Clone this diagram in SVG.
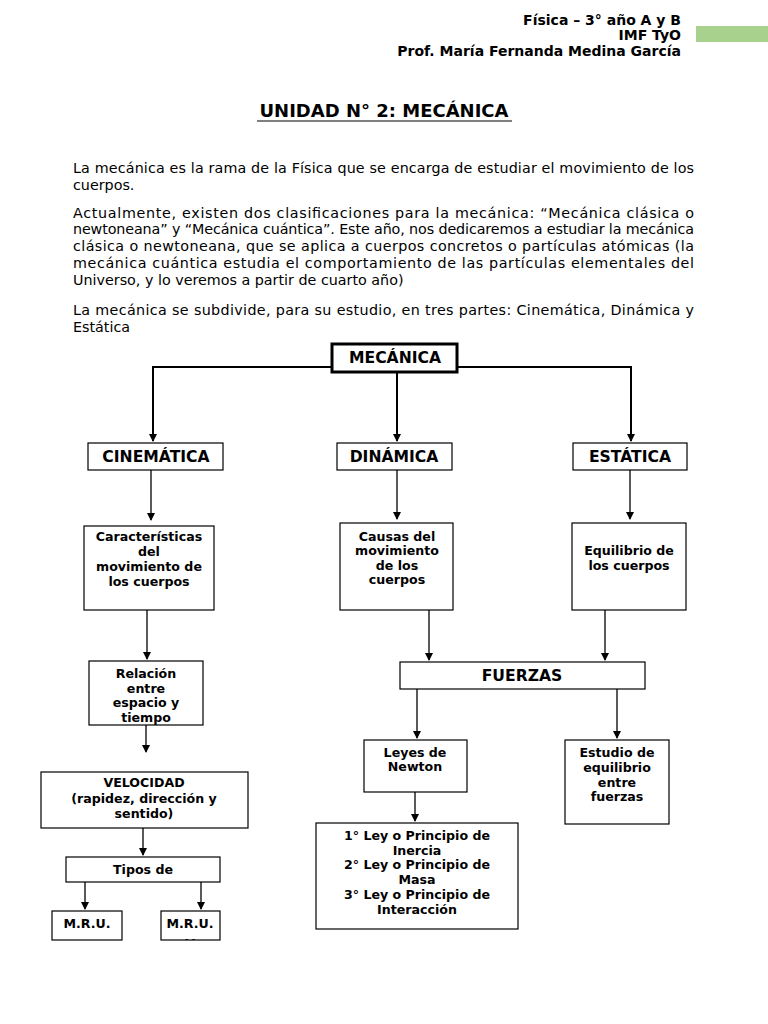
<svg xmlns="http://www.w3.org/2000/svg" width="768" height="1024" viewBox="0 0 768 1024">
<style>
.hd{font-family:"DejaVu Sans",Verdana,sans-serif;font-weight:bold;font-size:14px;fill:#000}
.body{font-family:"DejaVu Sans",Verdana,sans-serif;font-size:14.3px;fill:#000}
.ttl{font-family:"DejaVu Sans",Verdana,sans-serif;font-weight:bold;font-size:18px;fill:#000}
.big{font-family:"DejaVu Sans",Verdana,sans-serif;font-weight:bold;font-size:15.6px;fill:#000;text-anchor:middle}
.lbl{font-family:"DejaVu Sans",Verdana,sans-serif;font-weight:bold;font-size:12.6px;fill:#000;text-anchor:middle}
.box{fill:#fff;stroke:#000;stroke-width:1.2}
.c1{fill:none;stroke:#000;stroke-width:2}
.c2{fill:none;stroke:#000;stroke-width:1.3}
</style>
<defs>
<marker id="ah" markerWidth="8" markerHeight="8" refX="7" refY="4" orient="auto" markerUnits="userSpaceOnUse">
<path d="M0,0 L8,4 L0,8 z" fill="#000"/>
</marker>
<clipPath id="clipRel"><rect x="89" y="661" width="114" height="64"/></clipPath>
<clipPath id="clipMruv"><rect x="161" y="911" width="59" height="29"/></clipPath>
</defs>
<rect width="768" height="1024" fill="#fff"/>
<g id="header">
<text class="hd" x="681" y="25" text-anchor="end">Física – 3° año A y B</text>
<text class="hd" x="681" y="40" text-anchor="end">IMF TyO</text>
<text class="hd" x="681" y="56" text-anchor="end">Prof. María Fernanda Medina García</text>
<rect x="696" y="26" width="72" height="16" fill="#a9d18e"/>
</g>
<g id="title">
<text class="ttl" x="384" y="117" text-anchor="middle">UNIDAD N° 2: MECÁNICA</text>
<line x1="257" y1="121" x2="512" y2="121" stroke="#000" stroke-width="1.2"/>
</g>
<g id="paragraphs">
<text class="body" x="73" y="173" textLength="621" lengthAdjust="spacing">La mecánica es la rama de la Física que se encarga de estudiar el movimiento de los</text>
<text class="body" x="73" y="190">cuerpos.</text>
<text class="body" x="73" y="218" textLength="621" lengthAdjust="spacing">Actualmente, existen dos clasificaciones para la mecánica: “Mecánica clásica o</text>
<text class="body" x="73" y="234" textLength="621" lengthAdjust="spacing">newtoneana” y “Mecánica cuántica”. Este año, nos dedicaremos a estudiar la mecánica</text>
<text class="body" x="73" y="251" textLength="621" lengthAdjust="spacing">clásica o newtoneana, que se aplica a cuerpos concretos o partículas atómicas (la</text>
<text class="body" x="73" y="268" textLength="621" lengthAdjust="spacing">mecánica cuántica estudia el comportamiento de las partículas elementales del</text>
<text class="body" x="73" y="285">Universo, y lo veremos a partir de cuarto año)</text>
<text class="body" x="73" y="315" textLength="621" lengthAdjust="spacing">La mecánica se subdivide, para su estudio, en tres partes: Cinemática, Dinámica y</text>
<text class="body" x="73" y="332">Estática</text>
</g>
<g id="connectors">
<path class="c1" d="M332,367 H153 V441" marker-end="url(#ah)"/>
<path class="c1" d="M457,367 H631 V441" marker-end="url(#ah)"/>
<path class="c1" d="M397,372 V441" marker-end="url(#ah)"/>
<path class="c2" d="M151,470 V520" marker-end="url(#ah)"/>
<path class="c2" d="M397,470 V519" marker-end="url(#ah)"/>
<path class="c2" d="M630,470 V519" marker-end="url(#ah)"/>
<path class="c2" d="M147,610 V659" marker-end="url(#ah)"/>
<path class="c2" d="M429,610 V660" marker-end="url(#ah)"/>
<path class="c2" d="M605,610 V660" marker-end="url(#ah)"/>
<path class="c2" d="M146,725 V752" marker-end="url(#ah)"/>
<path class="c2" d="M143,828 V855" marker-end="url(#ah)"/>
<path class="c2" d="M85,882 V909" marker-end="url(#ah)"/>
<path class="c2" d="M201,882 V909" marker-end="url(#ah)"/>
<path class="c2" d="M417,689 V738" marker-end="url(#ah)"/>
<path class="c2" d="M617,689 V738" marker-end="url(#ah)"/>
<path class="c2" d="M415,792 V821" marker-end="url(#ah)"/>
</g>
<g id="mecanica">
<rect x="332" y="344" width="125" height="28" fill="#fff" stroke="#000" stroke-width="3"/>
<text class="big" x="395" y="363">MECÁNICA</text>
</g>
<g id="cinematica">
<rect class="box" x="88" y="443" width="135" height="27"/>
<text class="big" x="156" y="462">CINEMÁTICA</text>
</g>
<g id="dinamica">
<rect class="box" x="337" y="443" width="115" height="27"/>
<text class="big" x="394" y="462">DINÁMICA</text>
</g>
<g id="estatica">
<rect class="box" x="573" y="443" width="114" height="27"/>
<text class="big" x="630" y="462">ESTÁTICA</text>
</g>
<g id="caracteristicas">
<rect class="box" x="84" y="526" width="130" height="84"/>
<text class="lbl" x="149" y="541">Características</text>
<text class="lbl" x="149" y="556">del</text>
<text class="lbl" x="149" y="571">movimiento de</text>
<text class="lbl" x="149" y="586">los cuerpos</text>
</g>
<g id="causas">
<rect class="box" x="340" y="523" width="113" height="87"/>
<text class="lbl" x="397" y="541">Causas del</text>
<text class="lbl" x="397" y="555">movimiento</text>
<text class="lbl" x="397" y="570">de los</text>
<text class="lbl" x="397" y="584">cuerpos</text>
</g>
<g id="equilibrio">
<rect class="box" x="572" y="523" width="114" height="87"/>
<text class="lbl" x="629" y="555">Equilibrio de</text>
<text class="lbl" x="629" y="570">los cuerpos</text>
</g>
<g id="relacion">
<rect class="box" x="89" y="661" width="114" height="64"/>
<g clip-path="url(#clipRel)">
<text class="lbl" x="146" y="678">Relación</text>
<text class="lbl" x="146" y="693">entre</text>
<text class="lbl" x="146" y="707">espacio y</text>
<text class="lbl" x="146" y="722">tiempo</text>
</g>
</g>
<g id="velocidad">
<rect class="box" x="41" y="772" width="207" height="56"/>
<text class="lbl" x="144" y="787">VELOCIDAD</text>
<text class="lbl" x="144" y="803">(rapidez, dirección y</text>
<text class="lbl" x="144" y="818">sentido)</text>
</g>
<g id="tipos">
<rect class="box" x="66" y="857" width="154" height="25"/>
<text class="lbl" x="143" y="874">Tipos de</text>
</g>
<g id="mru">
<rect class="box" x="52" y="911" width="70" height="29"/>
<text class="lbl" x="87" y="928">M.R.U.</text>
</g>
<g id="mruv">
<rect class="box" x="161" y="911" width="59" height="29"/>
<g clip-path="url(#clipMruv)">
<text class="lbl" x="190" y="928">M.R.U.</text>
<text class="lbl" x="190" y="948">V</text>
</g>
</g>
<g id="fuerzas">
<rect class="box" x="400" y="662" width="245" height="27"/>
<text class="big" x="522" y="681">FUERZAS</text>
</g>
<g id="leyes">
<rect class="box" x="364" y="740" width="103" height="52"/>
<text class="lbl" x="415" y="757">Leyes de</text>
<text class="lbl" x="415" y="771">Newton</text>
</g>
<g id="estudio">
<rect class="box" x="565" y="740" width="104" height="84"/>
<text class="lbl" x="617" y="757">Estudio de</text>
<text class="lbl" x="617" y="772">equilibrio</text>
<text class="lbl" x="617" y="787">entre</text>
<text class="lbl" x="617" y="801">fuerzas</text>
</g>
<g id="principios">
<rect class="box" x="316" y="823" width="202" height="106"/>
<text class="lbl" x="417" y="840">1° Ley o Principio de</text>
<text class="lbl" x="417" y="855">Inercia</text>
<text class="lbl" x="417" y="869">2° Ley o Principio de</text>
<text class="lbl" x="417" y="884">Masa</text>
<text class="lbl" x="417" y="899">3° Ley o Principio de</text>
<text class="lbl" x="417" y="914">Interacción</text>
</g>
</svg>
